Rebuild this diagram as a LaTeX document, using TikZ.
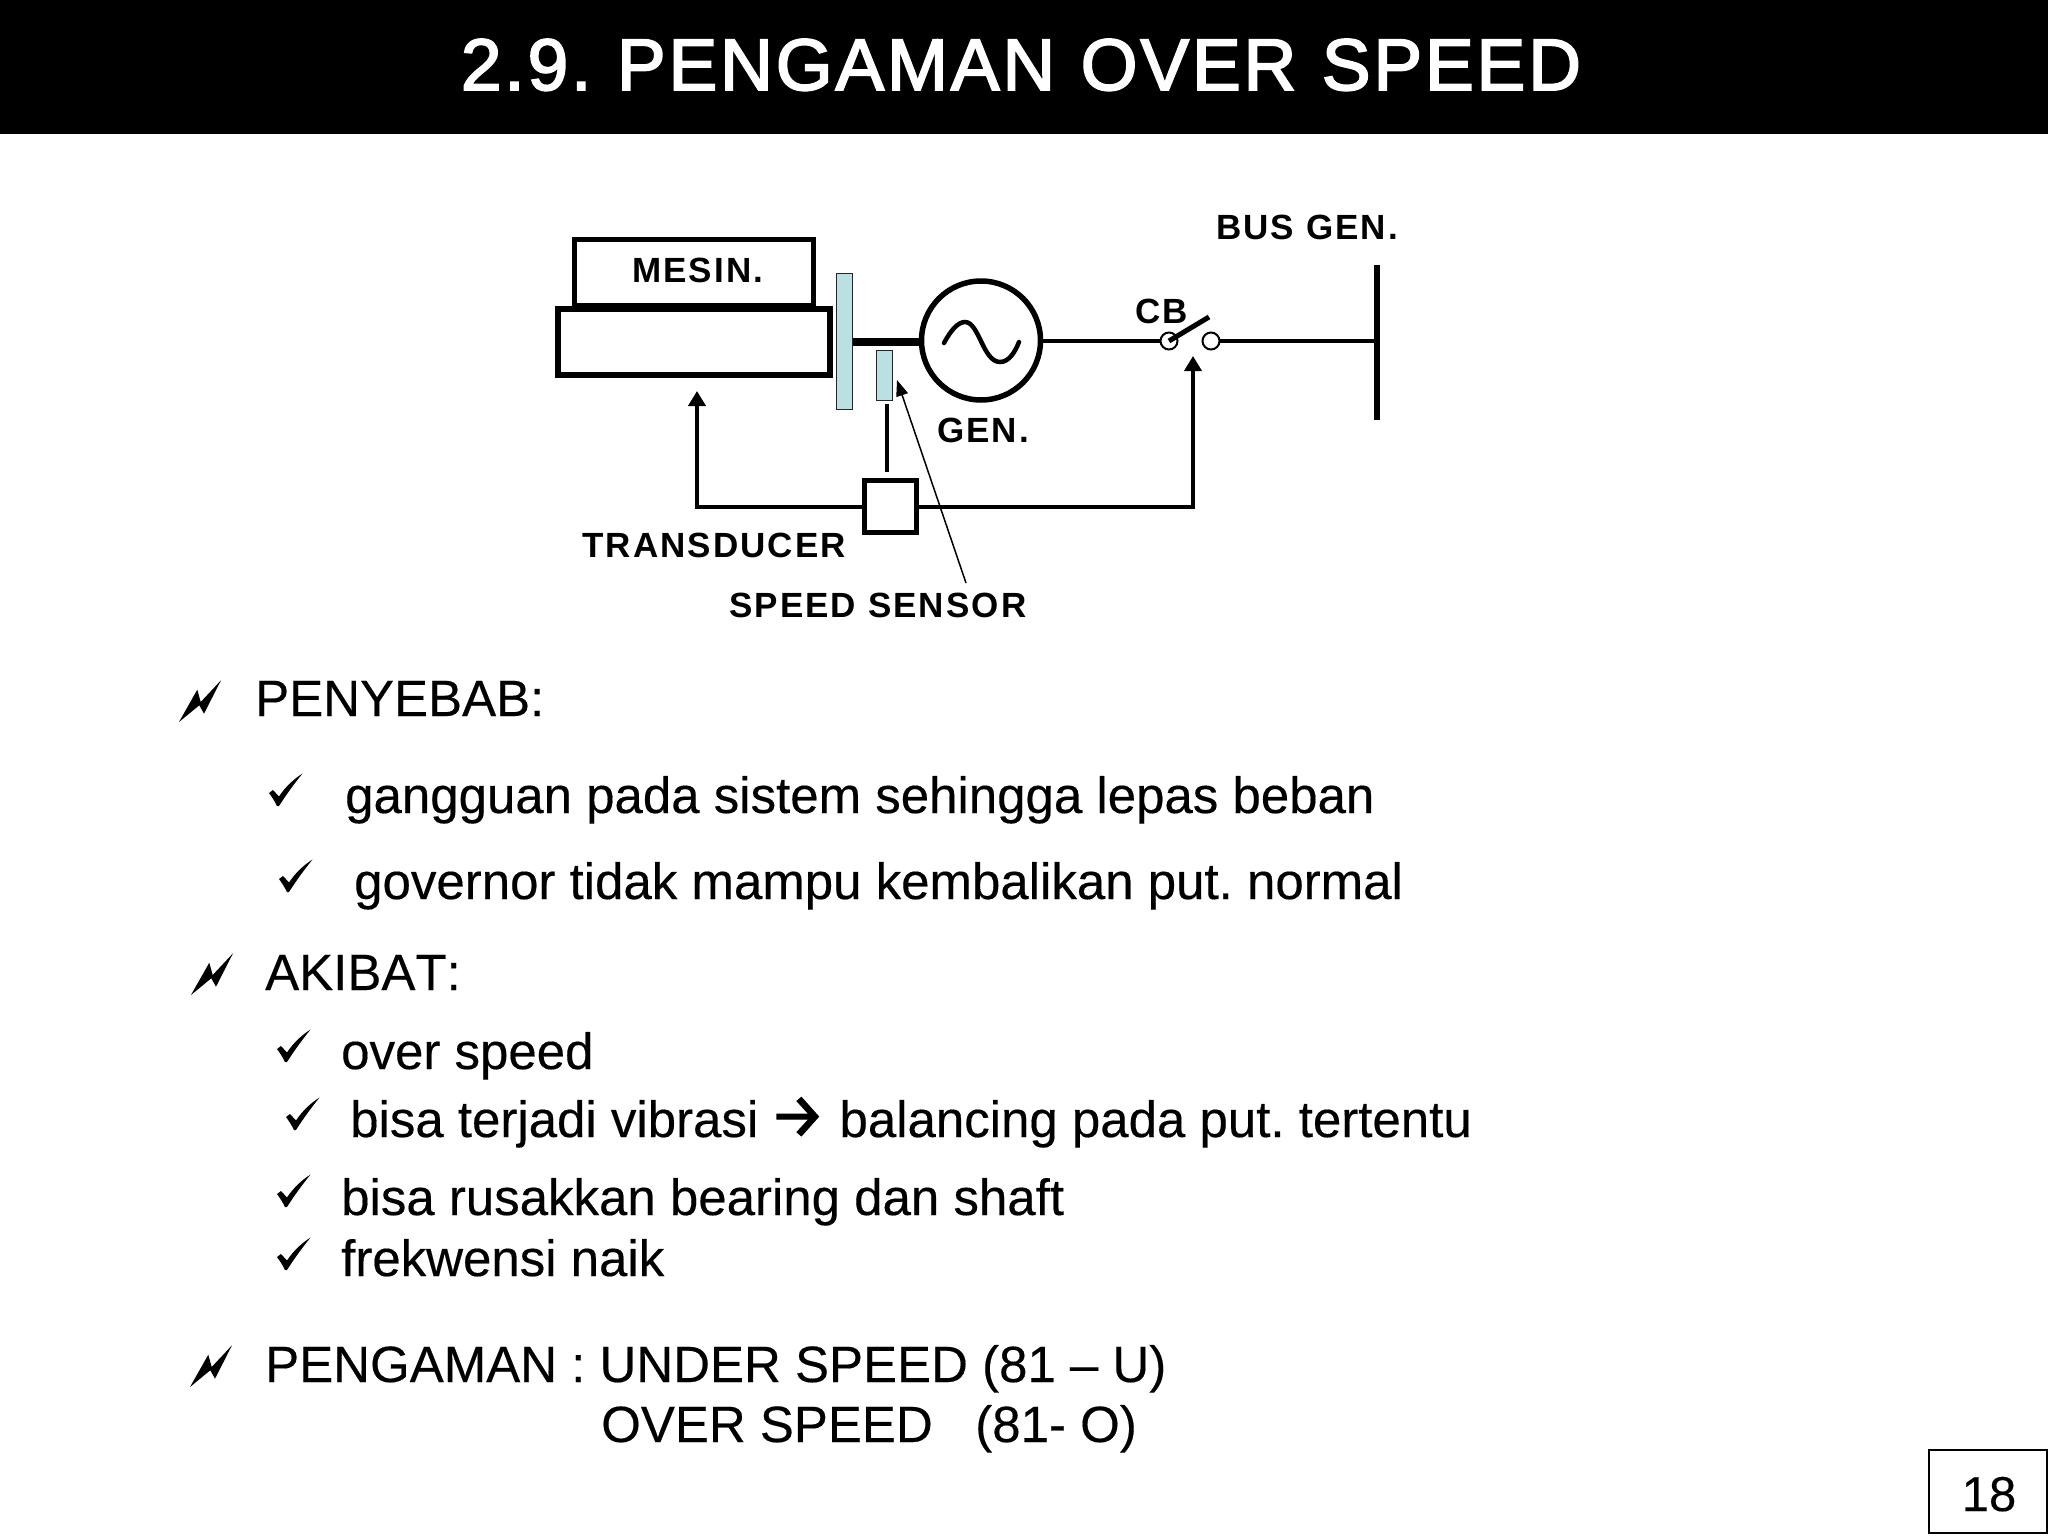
\documentclass[tikz,border=0pt]{standalone}
\usepackage{fontspec}
\usetikzlibrary{arrows.meta}
\setmainfont{Liberation Sans}[Kerning=Off,FakeBold=0.3]
\newfontfamily\titlefont{Liberation Sans}[LetterSpace=4,WordSpace=1.1,FakeBold=2.5,Kerning=Off]
\newfontfamily\labelfont{Liberation Sans}[LetterSpace=6,Kerning=Off]
\newfontfamily\arrowfont{Fira Sans}[FakeBold=2]
\definecolor{barblue}{HTML}{B9E0E2}
\tikzset{
  x=1pt,y=-1pt,
  boxline/.style={draw=black,line width=5.5pt,fill=white,inner sep=0pt,outer sep=0pt,rectangle},
  bluebar/.style={draw=black!85,line width=1.5pt,fill=barblue,inner sep=0pt,outer sep=0pt,rectangle},
  wire/.style={draw=black,line width=4.5pt},
  signal/.style={draw=black,line width=4pt,-{Triangle[length=15pt,width=17pt]}},
  contact/.style={circle,draw=black,line width=2pt,fill=white,minimum size=17pt,inner sep=0pt,outer sep=0pt},
  diaglabel/.style={anchor=base west,inner sep=0pt,font=\labelfont\bfseries\fontsize{35}{35}\selectfont},
  bodytext/.style={anchor=base west,inner sep=0pt,font=\fontsize{51}{51}\selectfont},
  boltbullet/.pic={\fill (0,0)--(18.3,-32.3)--(21.7,-20)--(42,-41.7)--(25,-8.3)--(20.3,-16.7)--cycle;},
  checkbullet/.pic={\fill (0,0)--(4,-3)--(10,3.5) .. controls (17,-7) and (25,-14) .. (33.5,-19.5) .. controls (25,-9) and (17,2) .. (10,13)--(8,13) .. controls (5.5,8) and (3,4) .. cycle;},
}
\frenchspacing
\begin{document}
\begin{tikzpicture}
\useasboundingbox (0,0) rectangle (2048,1536);
\fill[white] (0,0) rectangle (2048,1536);
% banner
\fill[black] (0,0) rectangle (2048,134);
\node[anchor=base,inner sep=0pt,text=white,font=\titlefont\fontsize{73}{73}\selectfont] (title) at (1021,90) {2.9. PENGAMAN OVER SPEED};
% machine
\node[boxline,minimum width=239pt,minimum height=66pt] (engineTop) at (694,272.5) {};
\node[boxline,minimum width=272pt,minimum height=66pt] (engineBase) at (694,342) {};
\node[diaglabel] (mesinLabel) at (632,282) {MESIN.};
\node[bluebar,minimum width=16pt,minimum height=136pt] (flywheel) at (844.5,341.5) {};
\node[bluebar,minimum width=16pt,minimum height=50pt] (sensor) at (884.5,375.5) {};
\node[circle,draw=black,line width=5.5pt,fill=white,minimum size=119pt,inner sep=0pt,outer sep=0pt] (gen) at (981,340.5) {};
\draw[black,line width=8pt] (flywheel.east) -- (flywheel.east -| gen.west);
\draw[black,line width=4.5pt,line cap=round] (944,343) .. controls (951,330) and (958,322) .. (965,322) .. controls (979,322) and (983,362) .. (1000,362) .. controls (1009,362) and (1015,352) .. (1019,342);
\node[diaglabel] (genLabel) at (937,442) {GEN.};
% breaker and bus
\coordinate (busTop) at (1377,265);
\coordinate (busBot) at (1377,420);
\draw[black,line width=6pt] (busTop) -- (busBot);
\node[contact] (cbLeft) at (1169,341) {};
\node[contact] (cbRight) at (1211,341) {};
\draw[wire] (gen.east |- cbLeft.west) -- (cbLeft.west);
\draw[wire] (cbRight.east) -- (cbRight.east -| busTop);
\coordinate (bladeEnd) at (1209,317);
\draw[black,line width=5pt] (cbLeft.center) -- (bladeEnd);
\node[diaglabel] (cbLabel) at (1135,323) {CB};
\node[diaglabel] (busLabel) at (1216,239) {BUS GEN.};
% transducer
\node[boxline,minimum width=52pt,minimum height=52pt] (trans) at (890.5,506.5) {};
\coordinate (engineIn) at (697,391);
\coordinate (cbIn) at (1193,356);
\draw[signal] (trans.west) -| (engineIn);
\draw[signal] (trans.east) -| (cbIn);
\coordinate (wireTop) at (887,404);
\coordinate (wireBot) at (887,472);
\draw[wire] (wireTop) -- (wireBot);
\node[diaglabel] (transLabel) at (582,557) {TRANSDUCER};
\node[diaglabel] (speedLabel) at (729,617) {SPEED SENSOR};
\coordinate (leaderStart) at (966,583);
\coordinate (leaderTip) at (897,380);
\draw[black,line width=1.5pt,-{Triangle[length=16pt,width=12pt]}] (leaderStart) -- (leaderTip);
% text
\pic at (179,722) {boltbullet};
\node[bodytext] (t1) at (255,716) {PENYEBAB:};
\pic at (269,793) {checkbullet};
\node[bodytext] (t2) at (345,813) {gangguan pada sistem sehingga lepas beban};
\pic at (279,879) {checkbullet};
\node[bodytext] (t3) at (354,899) {governor tidak mampu kembalikan put. normal};
\pic at (191,995) {boltbullet};
\node[bodytext] (t4) at (265,990) {AKIBAT:};
\pic at (277,1049) {checkbullet};
\node[bodytext] (t5) at (341,1069) {over speed};
\pic at (286,1117) {checkbullet};
\node[bodytext] (t6) at (350,1137) {bisa terjadi vibrasi \kern-3pt{\arrowfont\fontsize{62}{62}\selectfont →} balancing pada put. tertentu};
\pic at (277,1194) {checkbullet};
\node[bodytext] (t7) at (341,1215) {bisa rusakkan bearing dan shaft};
\pic at (277,1257) {checkbullet};
\node[bodytext] (t8) at (341,1276) {frekwensi naik};
\pic at (190,1387) {boltbullet};
\node[bodytext] (t9) at (265,1382) {PENGAMAN : UNDER SPEED (81 – U)};
\node[bodytext] (t10) at (601,1442) {OVER SPEED~~~(81- O)};
% page number
\node[draw=black,line width=2pt,minimum width=118pt,minimum height=83pt,inner sep=0pt] (pagebox) at (1987.5,1491.5) {};
\node[anchor=base,inner sep=0pt,font=\fontsize{49}{49}\selectfont] (pagenum) at (1989,1511) {18};
\end{tikzpicture}
\end{document}
